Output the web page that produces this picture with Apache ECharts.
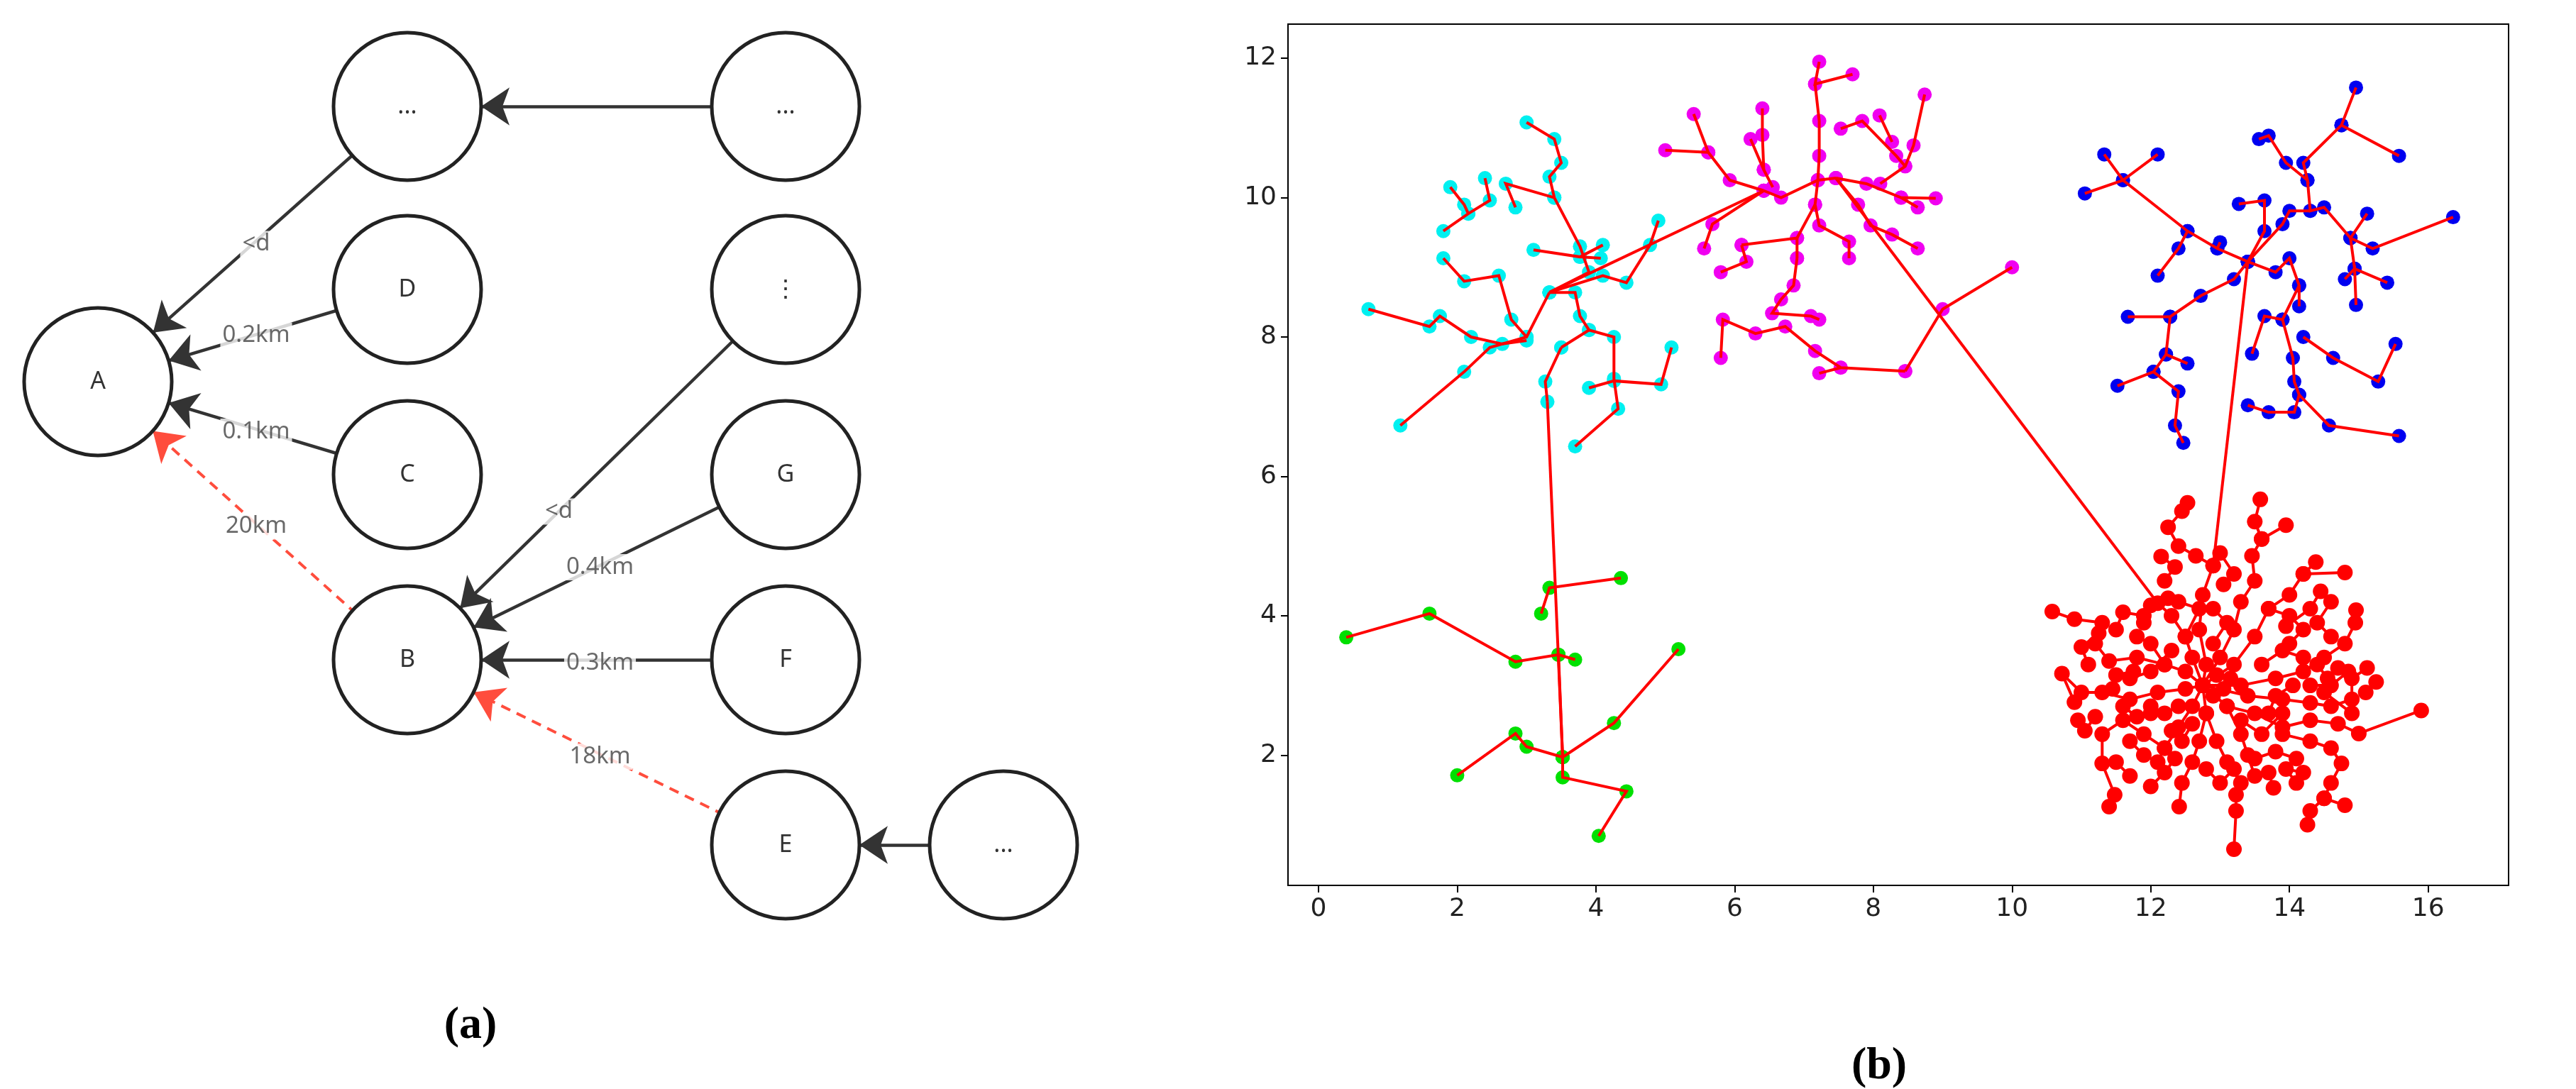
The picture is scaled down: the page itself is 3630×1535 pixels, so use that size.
<!DOCTYPE html>
<html><head><meta charset="utf-8">
<script src="https://cdn.jsdelivr.net/npm/echarts@6/dist/echarts.min.js"></script>
<style>html,body{margin:0;padding:0;background:#fff}#c{width:3630px;height:1535px}</style>
</head><body><div id="c"></div>
<script>
// ---------- Panel (a): nodes and edges ----------
const nodeNames = ['A','top1','top2','D','C','B','vdots','G','F','E','end'];
const nodeLabels = ['A','...','...','D','C','B','\u22EE','G','F','E','...'];
const nodeX = [0, 4.36, 9.69, 4.36, 4.36, 4.36, 9.69, 9.69, 9.69, 9.69, 12.76];
const nodeY = [5.38, 1.5, 1.5, 4.08, 6.69, 9.3, 4.08, 6.69, 9.3, 11.91, 11.91];
const edgeFrom = ['top2','top1','D','C','B','vdots','G','F','E','end'];
const edgeTo   = ['top1','A','A','A','A','B','B','B','B','E'];
const edgeText = ['','<d','0.2km','0.1km','20km','<d','0.4km','0.3km','18km',''];
const edgeLabelShiftX = [0,0.05,0.05,0.05,0.05,-0.53,0.05,0.05,0.05,0];
const edgeLabelShiftY = [0,0,0,0.05,0.08,0.52,0,0.05,0.06,0];
const edgeDashed = [false,false,false,false,true,false,false,false,true,false];

// ---------- Panel (b): clusters as branch chains ----------
const cyanChains = [
 [[1.18,6.73],[2.1,7.5],[2.47,7.85],[3.0,8.0],[3.33,8.64]],
 [[0.72,8.4],[1.6,8.15],[1.75,8.3],[2.2,8.0],[2.65,7.9],[3.0,7.95]],
 [[1.8,9.13],[2.1,8.8],[2.6,8.88],[2.78,8.25],[3.0,8.0]],
 [[1.8,9.52],[2.16,9.77],[2.47,9.96],[2.4,10.28]],
 [[1.9,10.15],[2.1,9.9],[2.16,9.77]],
 [[2.84,9.86],[2.7,10.2],[3.4,10.0]],
 [[3.0,11.08],[3.4,10.84],[3.5,10.5],[3.33,10.3],[3.4,10.0],[3.77,9.3],[3.9,8.93],[3.33,8.64]],
 [[3.1,9.25],[3.77,9.15],[4.1,9.32]],
 [[4.07,9.13],[3.77,9.15]],
 [[4.9,9.67],[4.78,9.32],[4.44,8.78],[4.1,8.88],[3.33,8.64]],
 [[3.33,8.64],[3.7,8.64],[3.77,8.3],[3.9,8.1],[4.26,8.0],[4.26,7.4],[4.32,6.97],[3.7,6.43]],
 [[3.9,7.27],[4.26,7.37],[4.94,7.32],[5.09,7.85]],
 [[3.5,7.85],[3.9,8.1]],
 [[3.5,7.85],[3.27,7.36],[3.3,7.07]]
];
const magentaChains = [
 [[5.0,10.68],[5.62,10.65],[5.93,10.25],[6.42,10.1]],
 [[5.41,11.2],[5.62,10.65]],
 [[6.23,10.84],[6.42,10.4],[6.55,10.15]],
 [[6.4,11.28],[6.4,10.9],[6.42,10.4]],
 [[7.22,11.95],[7.16,11.63],[7.7,11.77]],
 [[7.16,11.63],[7.22,11.1],[7.22,10.6],[7.2,10.25]],
 [[6.42,10.1],[6.67,10.0],[7.2,10.25],[7.46,10.28]],
 [[7.53,10.99],[7.84,11.1],[8.33,10.6],[8.46,10.45]],
 [[8.09,11.18],[8.27,10.8]],
 [[8.74,11.48],[8.58,10.75],[8.46,10.45],[8.1,10.2]],
 [[7.46,10.28],[7.9,10.2],[8.4,10.0],[8.9,9.99]],
 [[8.64,9.86],[8.4,10.0]],
 [[7.46,10.28],[7.78,9.9],[7.96,9.6],[8.27,9.47],[8.64,9.27]],
 [[7.2,10.25],[7.16,9.9],[7.22,9.6],[7.65,9.37],[7.65,9.13]],
 [[6.1,9.32],[6.9,9.42],[6.9,9.13]],
 [[5.8,8.93],[6.17,9.08],[6.1,9.32]],
 [[5.56,9.27],[5.68,9.62],[6.42,10.1]],
 [[6.9,9.42],[7.16,9.9]],
 [[6.9,9.13],[6.85,8.74],[6.67,8.54],[6.54,8.34],[7.1,8.3],[7.22,8.25]],
 [[5.8,7.7],[5.83,8.25],[6.3,8.05],[6.73,8.15],[7.16,7.8],[7.53,7.56],[8.46,7.51]],
 [[7.22,7.48],[7.53,7.56]],
 [[8.46,7.51],[9.0,8.4],[10.0,9.0]]
];
const blueChains = [
 [[11.33,10.62],[11.6,10.25],[12.1,10.62]],
 [[11.05,10.06],[11.6,10.25],[12.53,9.52],[12.96,9.27],[13.4,9.08]],
 [[12.1,8.88],[12.4,9.27],[12.53,9.52]],
 [[13.0,9.36],[12.96,9.27]],
 [[13.27,9.91],[13.64,9.96],[13.64,9.52],[13.4,9.08]],
 [[13.56,10.84],[13.7,10.89],[13.95,10.5],[14.26,10.25],[14.2,10.5],[14.75,11.04],[14.96,11.58]],
 [[14.75,11.04],[15.58,10.6]],
 [[14.26,10.25],[14.3,9.81],[14.5,9.86],[14.88,9.42],[15.12,9.77]],
 [[14.88,9.42],[15.2,9.27],[16.36,9.72]],
 [[14.88,9.42],[14.94,8.98],[15.41,8.78]],
 [[14.8,8.83],[14.94,8.98],[14.96,8.46]],
 [[13.4,9.08],[13.9,9.62],[14.0,9.81],[14.3,9.81]],
 [[13.4,9.08],[13.2,8.83],[12.72,8.59],[12.28,8.29],[11.67,8.29]],
 [[12.28,8.29],[12.22,7.75],[12.04,7.5],[11.52,7.3]],
 [[12.22,7.75],[12.53,7.62]],
 [[12.04,7.5],[12.4,7.22],[12.35,6.73],[12.47,6.48]],
 [[13.4,9.08],[13.8,8.93],[14.0,9.13],[14.14,8.74],[14.14,8.44]],
 [[14.14,8.74],[13.9,8.25],[13.64,8.3],[13.46,7.76]],
 [[13.9,8.25],[14.05,7.7],[14.07,7.36],[14.14,7.17],[14.57,6.73],[15.58,6.58]],
 [[14.14,7.17],[14.07,6.92],[13.7,6.92],[13.4,7.02]],
 [[14.2,8.0],[14.63,7.7],[15.28,7.36],[15.53,7.9]]
];
const greenChains = [
 [[0.4,3.69],[1.6,4.03],[2.84,3.34],[3.46,3.44],[3.7,3.37]],
 [[4.36,4.54],[3.33,4.4],[3.21,4.03]],
 [[2.0,1.71],[2.84,2.31],[3.0,2.12],[3.52,1.97]],
 [[5.19,3.52],[4.26,2.46],[3.52,1.97]],
 [[3.52,1.97],[3.52,1.68],[4.44,1.48],[4.04,0.84]],
 [[3.46,3.44],[3.52,1.97]]
];
const redChains = [
 [[12.9,4.72],[12.75,4.3],[12.7,3.8],[12.8,3.3],[12.75,3.0]],
 [[12.53,5.62],[12.45,5.5],[12.25,5.27],[12.4,5.0],[12.65,4.86],[12.9,4.72]],
 [[13.58,5.67],[13.5,5.35],[13.6,5.1],[13.95,5.3]],
 [[13.6,5.1],[13.46,4.86],[13.5,4.5],[13.3,4.2],[13.2,3.8],[13.0,3.4],[12.75,3.0]],
 [[14.38,4.77],[14.2,4.6],[14.8,4.62]],
 [[14.2,4.6],[14.0,4.3],[13.7,4.1],[13.5,3.7],[13.2,3.3],[12.75,3.0]],
 [[14.96,4.08],[14.95,3.9],[14.8,3.6],[14.5,3.4],[14.2,3.2],[13.8,3.1],[13.3,3.0],[12.75,3.0]],
 [[15.12,3.25],[14.9,3.1],[14.9,2.8],[14.6,2.7],[14.3,2.75],[13.9,2.8],[13.4,2.85],[12.75,3.0]],
 [[15.9,2.64],[15.0,2.31],[14.7,2.45],[14.3,2.5],[13.9,2.4],[13.5,2.6],[13.1,2.7],[12.75,3.0]],
 [[14.8,1.28],[14.5,1.38],[14.6,1.6],[14.75,1.88],[14.6,2.1],[14.3,2.2],[13.9,2.3]],
 [[14.26,1.0],[14.3,1.2],[14.5,1.38]],
 [[13.77,1.53],[13.7,1.75],[13.5,1.7],[13.4,2.0],[13.3,2.3],[13.1,2.7]],
 [[13.2,0.65],[13.23,1.2],[13.23,1.43],[13.3,1.6],[13.1,1.9],[12.95,2.2],[12.8,2.6],[12.75,3.0]],
 [[12.41,1.26],[12.45,1.6],[12.6,1.9],[12.7,2.2],[12.8,2.6]],
 [[11.4,1.26],[11.48,1.43],[11.3,1.88],[11.3,2.3],[11.6,2.5],[11.9,2.3],[12.2,2.1],[12.4,2.4],[12.6,2.7],[12.75,3.0]],
 [[10.9,2.76],[10.72,3.17],[11.0,2.9],[11.3,2.9],[11.7,2.8],[12.1,2.9],[12.5,2.95],[12.75,3.0]],
 [[10.58,4.06],[10.9,3.95],[11.3,3.9],[11.2,3.6],[11.4,3.35],[11.8,3.4],[12.2,3.3],[12.5,3.2],[12.75,3.0]],
 [[11.5,3.8],[11.6,4.05],[11.9,4.0],[12.1,4.18],[12.3,4.0],[12.5,3.7],[12.6,3.4],[12.75,3.0]],
 [[12.4,4.2],[12.7,4.1],[12.5,3.7]],
 [[11.8,3.7],[12.0,3.6],[12.2,3.3]],
 [[11.7,2.2],[11.9,2.0],[12.1,1.9],[12.2,2.1]],
 [[12.0,2.6],[11.8,2.55],[11.6,2.7]],
 [[14.0,3.6],[14.2,3.8],[14.0,4.0],[13.7,4.1]],
 [[14.3,3.0],[14.6,3.0],[14.85,3.2]],
 [[13.5,1.95],[13.8,2.05],[14.1,1.95]],
 [[12.9,3.6],[13.1,3.9],[12.9,4.1]],
 [[12.4,2.7],[12.2,2.6],[12.0,2.7]],
 [[14.5,2.9],[14.9,2.6]],
 [[13.2,1.8],[13.0,1.6],[12.8,1.8]],
 [[11.5,1.9],[11.7,1.7]],
 [[13.6,3.3],[13.9,3.5],[14.2,3.4]],
 [[12.3,3.5],[12.0,3.2],[11.7,3.1]],
 [[13.3,2.5],[13.6,2.3],[13.9,2.6]],
 [[11.1,3.3],[11.0,3.55],[11.25,3.75]],
 [[11.9,3.9],[12.0,4.15],[12.25,4.25]],
 [[13.95,3.85],[14.3,4.1],[14.45,4.35]],
 [[14.6,3.7],[14.4,3.9],[14.6,4.2]],
 [[15.1,2.9],[15.25,3.05]],
 [[14.1,1.6],[13.95,1.8],[14.2,1.75]],
 [[12.0,1.55],[12.2,1.75],[12.35,1.95]],
 [[11.45,2.95],[11.5,3.15],[11.75,3.2]],
 [[12.95,3.15],[13.15,3.1],[13.05,2.95],[12.9,2.85]],
 [[12.6,2.45],[12.45,2.2],[12.3,2.35]],
 [[13.7,2.6],[13.8,2.85],[14.05,3.0]],
 [[12.2,4.5],[12.35,4.7],[12.15,4.85]],
 [[13.05,4.45],[13.2,4.6],[13.0,4.9]],
 [[14.7,3.25],[14.55,3.1],[14.4,3.3]],
 [[11.2,2.55],[11.05,2.35],[10.95,2.5]]
];
const linkChains = [
 [[3.33,8.64],[6.42,10.1]],
 [[3.3,7.07],[3.52,1.97]],
 [[7.46,10.28],[12.1,4.18]],
 [[13.4,9.08],[12.9,4.72]]
];
const xTicks = [0,2,4,6,8,10,12,14,16];
const yTicks = [2,4,6,8,10,12];

// ---------- build ----------
const chart = echarts.init(document.getElementById('c'));
const idx = n => nodeNames.indexOf(n);
const nodes = nodeNames.map((n,i)=>({name:n, value:[nodeX[i],nodeY[i]], label:{formatter:nodeLabels[i]}}));
const links = edgeFrom.map((f,i)=>({
  source:f, target:edgeTo[i],
  lineStyle: edgeDashed[i] ? {color:'#ff4d3d', type:[14,10], width:4, opacity:1} : {color:'#333', type:'solid', width:4.5, opacity:1}
}));
const edgeLabelData = edgeFrom.map((f,i)=>{
  const a = idx(f), b = idx(edgeTo[i]);
  return {value:[(nodeX[a]+nodeX[b])/2 + edgeLabelShiftX[i], (nodeY[a]+nodeY[b])/2 + edgeLabelShiftY[i]], name:edgeText[i]};
}).filter(d=>d.name);
const pts = chains => chains.flat();
const allChains = [...cyanChains,...magentaChains,...blueChains,...greenChains,...redChains,...linkChains];
const scat = (chains,color,size)=>({type:'scatter', xAxisIndex:1, yAxisIndex:1, data:pts(chains), symbolSize:size||20,
  itemStyle:{color:color, opacity:1}, z:2, silent:true});

chart.setOption({
  animation:false,
  title:[
    {text:'{p|(}{b|a}{p|)}', left:658, top:1441, textAlign:'center', textVerticalAlign:'middle',
     textStyle:{rich:{p:{fontFamily:'Liberation Serif',fontSize:64,color:'#000'},b:{fontFamily:'Liberation Serif',fontSize:64,fontWeight:'bold',color:'#000'}}}},
    {text:'{p|(}{b|b}{p|)}', left:2643, top:1498, textAlign:'center', textVerticalAlign:'middle',
     textStyle:{rich:{p:{fontFamily:'Liberation Serif',fontSize:64,color:'#000'},b:{fontFamily:'Liberation Serif',fontSize:64,fontWeight:'bold',color:'#000'}}}}
  ],
  grid:[
    {left:0, top:0, width:1700, height:1535},
    {left:1815, top:34, width:1720, height:1214, show:true, borderColor:'#000', borderWidth:2, backgroundColor:'#fff'}
  ],
  xAxis:[
    {gridIndex:0, type:'value', min:-1.38, max:15.62, show:false},
    {gridIndex:1, type:'value', min:-0.44, max:17.16, splitLine:{show:false},
     axisLine:{show:true, onZero:false, lineStyle:{color:'#000',width:2}},
     axisTick:{show:true, customValues:xTicks, length:10, lineStyle:{color:'#000',width:2}},
     axisLabel:{customValues:xTicks, fontSize:36, color:'#222', fontFamily:'DejaVu Sans', margin:16}}
  ],
  yAxis:[
    {gridIndex:0, type:'value', min:0, max:15.35, inverse:true, show:false},
    {gridIndex:1, type:'value', min:0.13, max:12.49, splitLine:{show:false},
     axisLine:{show:true, onZero:false, lineStyle:{color:'#000',width:2}},
     axisTick:{show:true, customValues:yTicks, length:10, lineStyle:{color:'#000',width:2}},
     axisLabel:{customValues:yTicks, fontSize:36, color:'#222', fontFamily:'DejaVu Sans', margin:16}}
  ],
  series:[
    {type:'graph', coordinateSystem:'cartesian2d', xAxisIndex:0, yAxisIndex:0,
     symbol:'circle', symbolSize:208, z:2,
     itemStyle:{color:'#fff', borderColor:'#222', borderWidth:5},
     label:{show:true, fontSize:34, color:'#333', fontFamily:'Noto Sans'},
     edgeSymbol:['none','arrow'], edgeSymbolSize:[0,40],
     data:nodes, links:links},
    {type:'scatter', xAxisIndex:0, yAxisIndex:0, data:edgeLabelData, symbolSize:1, z:5, silent:true,
     itemStyle:{color:'transparent'},
     label:{show:true, position:'inside', formatter:p=>p.name, fontSize:33, color:'#444', fontFamily:'Noto Sans',
            backgroundColor:'#fff', padding:[2,3]}},
    scat(cyanChains,'#00f0f0'),
    scat(magentaChains,'#f000f0'),
    scat(blueChains,'#0000f0'),
    scat(greenChains,'#00e000'),
    scat(redChains,'#ff0000',22),
    {type:'lines', coordinateSystem:'cartesian2d', xAxisIndex:1, yAxisIndex:1, polyline:true, z:3, silent:true,
     lineStyle:{color:'#ff0000', width:4, opacity:1},
     data:allChains.map(c=>({coords:c}))}
  ]
});
</script></body></html>
